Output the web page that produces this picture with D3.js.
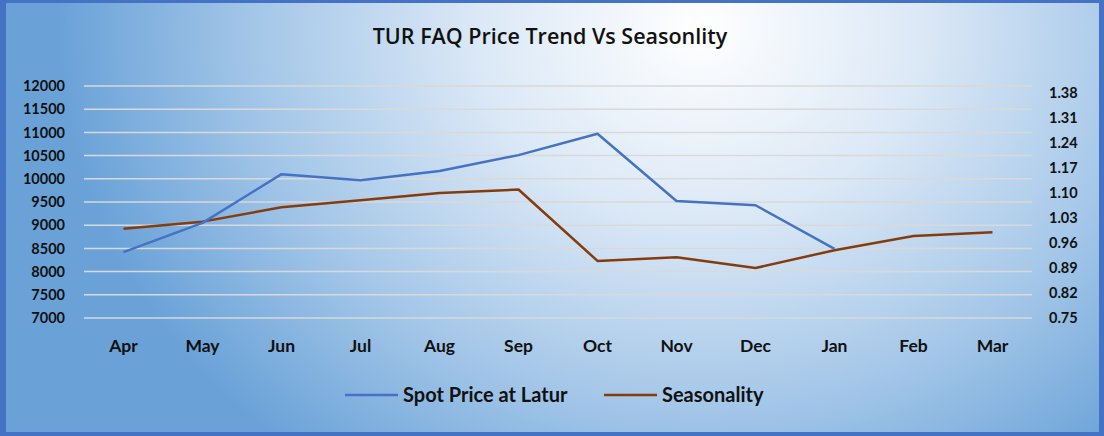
<!DOCTYPE html>
<html><head><meta charset="utf-8">
<script src="https://cdn.jsdelivr.net/npm/d3@7"></script>
<style>html,body{margin:0;padding:0;background:#fff;}svg{display:block;}</style>
</head><body>
<svg id="chart" width="1104" height="436"></svg>
<script>
const title = "TUR FAQ Price Trend Vs Seasonlity";
const months = ["Apr","May","Jun","Jul","Aug","Sep","Oct","Nov","Dec","Jan","Feb","Mar"];
const spotPrice = [8420, 9050, 10100, 9970, 10170, 10510, 10970, 9520, 9430, 8490, null, null];
const seasonality = [1.00, 1.02, 1.06, 1.08, 1.10, 1.11, 0.91, 0.92, 0.89, 0.94, 0.98, 0.99];
const leftTicks = [7000,7500,8000,8500,9000,9500,10000,10500,11000,11500,12000];
const rightTicks = [0.75,0.82,0.89,0.96,1.03,1.10,1.17,1.24,1.31,1.38];
const seriesNames = ["Spot Price at Latur","Seasonality"];
const seriesColors = ["#4472c4","#843c0c"];

const svg = d3.select("#chart");
const W = 1104, H = 436;
const font = "Lato, 'Open Sans', sans-serif";

const defs = svg.append("defs");
const grad = defs.append("radialGradient").attr("id","bg")
  .attr("gradientUnits","userSpaceOnUse")
  .attr("cx",0).attr("cy",0).attr("r",640)
  .attr("gradientTransform","translate(700,30) scale(1,0.85)");
grad.append("stop").attr("offset","0%").attr("stop-color","#ffffff");
grad.append("stop").attr("offset","35%").attr("stop-color","#dbe8f6");
grad.append("stop").attr("offset","70%").attr("stop-color","#a3c6e8");
grad.append("stop").attr("offset","100%").attr("stop-color","#6aa2d8");

svg.append("rect").attr("x",0).attr("y",0).attr("width",W).attr("height",H).attr("fill","#4472c4");
svg.append("rect").attr("x",6).attr("y",3).attr("width",1093).attr("height",429).attr("fill","url(#bg)");

const m = {left:84, right:1032, top:86, bottom:318};
const x = d3.scaleBand().domain(months).range([m.left, m.right]);
const yL = d3.scaleLinear().domain([7000,12000]).range([m.bottom, m.top]);
const yR = d3.scaleLinear().domain([0.75,1.40]).range([m.bottom, m.top]);

// gridlines
svg.append("g").selectAll("line").data(leftTicks).join("line")
  .attr("x1",m.left).attr("x2",m.right)
  .attr("y1",d=>yL(d)).attr("y2",d=>yL(d))
  .attr("stroke","#d9d9d9").attr("stroke-width",1.5);

// left axis
const axL = svg.append("g").attr("transform",`translate(${m.left-19},0)`)
  .call(d3.axisLeft(yL).tickValues(leftTicks).tickSize(0).tickPadding(0).tickFormat(d3.format("d")));
axL.select(".domain").remove();
axL.selectAll("text").attr("font-family",font).attr("font-weight","bold").attr("font-size",14.5).attr("fill","#111");

// right axis
const axR = svg.append("g").attr("transform",`translate(${m.right+17},0)`)
  .call(d3.axisRight(yR).tickValues(rightTicks).tickSize(0).tickPadding(0).tickFormat(d3.format(".2f")));
axR.select(".domain").remove();
axR.selectAll("text").attr("font-family",font).attr("font-weight","bold").attr("font-size",14.5).attr("fill","#111");

// x axis
const axX = svg.append("g").attr("transform",`translate(0,${m.bottom+22})`)
  .call(d3.axisBottom(x).tickSize(0).tickPadding(0));
axX.select(".domain").remove();
axX.selectAll("text").attr("font-family",font).attr("font-weight","bold").attr("font-size",17.5).attr("fill","#111");

// lines
const lineL = d3.line().defined(d=>d!=null).x((d,i)=>x(months[i])+x.bandwidth()/2).y(d=>yL(d));
const lineR = d3.line().x((d,i)=>x(months[i])+x.bandwidth()/2).y(d=>yR(d));
svg.append("path").datum(seasonality).attr("d",lineR).attr("fill","none")
  .attr("stroke",seriesColors[1]).attr("stroke-width",2.5).attr("stroke-linejoin","round");
svg.append("path").datum(spotPrice).attr("d",lineL).attr("fill","none")
  .attr("stroke",seriesColors[0]).attr("stroke-width",2.5).attr("stroke-linejoin","round");

// title
svg.append("text").attr("x",550).attr("y",44).attr("text-anchor","middle")
  .attr("font-family","'Open Sans', sans-serif").attr("font-weight",600).attr("font-size",21.5).attr("fill","#111")
  .text(title);

// legend
const legX = [345, 604];
const leg = svg.append("g");
seriesNames.forEach((n,i)=>{
  leg.append("line").attr("x1",legX[i]).attr("x2",legX[i]+53).attr("y1",395).attr("y2",395)
    .attr("stroke",seriesColors[i]).attr("stroke-width",2.5);
  leg.append("text").attr("x",legX[i]+58).attr("y",402)
    .attr("font-family",font).attr("font-weight","bold").attr("font-size",20).attr("fill","#111")
    .text(n);
});
</script>
</body></html>
